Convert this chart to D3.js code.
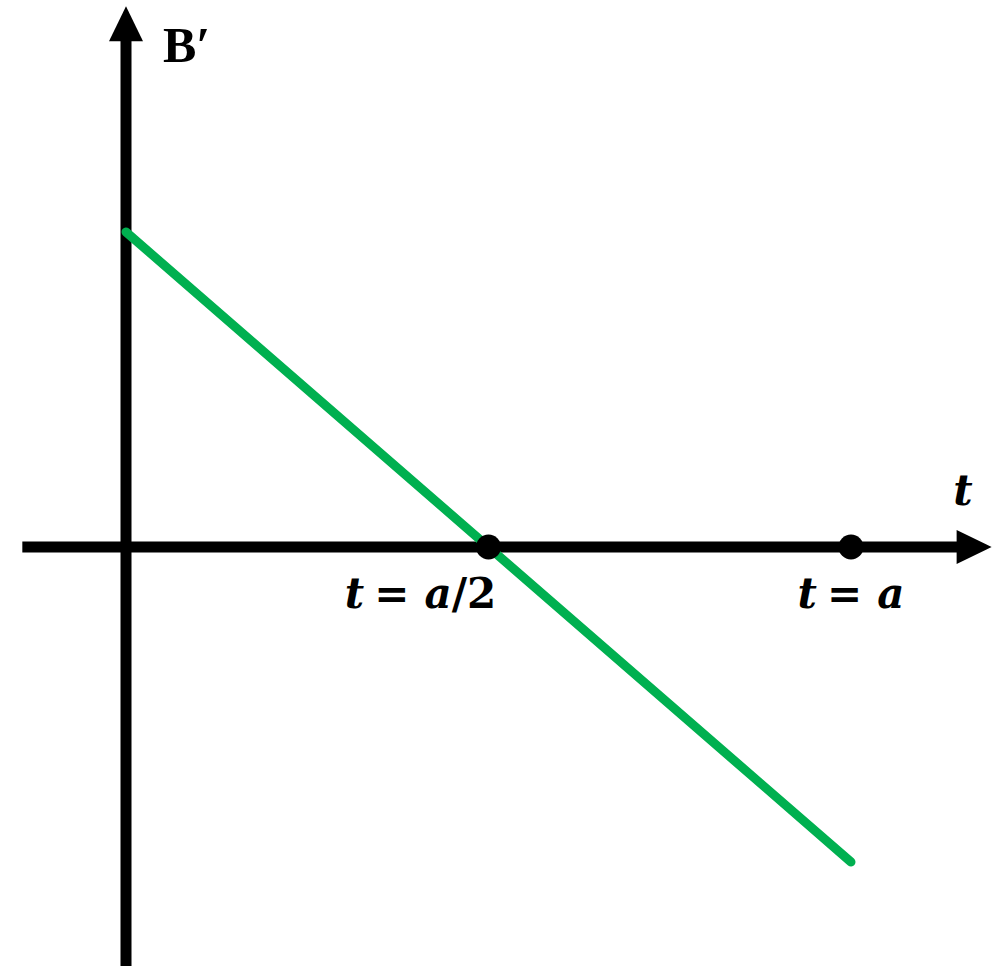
<!DOCTYPE html>
<html>
<head>
<meta charset="utf-8">
<script src="https://cdn.jsdelivr.net/npm/d3@7"></script>
<style>
  body { margin: 0; background: #fff; }
  svg { display: block; }
  .lbl { font-family: "Liberation Serif", "DejaVu Serif", serif; font-weight: bold; fill: #000; }
  .math { font-family: "DejaVu Serif", serif; font-weight: bold; fill: #000; }
</style>
</head>
<body>
<div id="chart"></div>
<script>
// B'(t) straight line, value at t=0 and t=a (a = 1)
const lineT = [0, 1];
const lineB = [1, -1];
// marked points on the t axis
const markT = [0.5, 1];
const markLabels = ["a/2", "a"];
// axis extents (in data units)
const tRange = [-0.143, 1.194];
const bRange = [-1.33, 1.717];

const W = 1000, H = 980;

const x = d3.scaleLinear().domain([0, 1]).range([126, 851]);
const y = d3.scaleLinear().domain([0, 1]).range([547, 232]);

const svg = d3.select("#chart").append("svg")
    .attr("width", W)
    .attr("height", H);

const head = 35, half = 17;

// t axis
svg.append("line")
    .attr("x1", x(tRange[0])).attr("y1", y(0))
    .attr("x2", x(tRange[1]) - head + 2).attr("y2", y(0))
    .attr("stroke", "#000").attr("stroke-width", 11);
svg.append("path")
    .attr("d", `M${x(tRange[1])},${y(0)} L${x(tRange[1]) - head},${y(0) - half} L${x(tRange[1]) - head},${y(0) + half} Z`)
    .attr("fill", "#000");

// B' axis
svg.append("line")
    .attr("x1", x(0)).attr("y1", y(bRange[0]))
    .attr("x2", x(0)).attr("y2", y(bRange[1]) + head - 2)
    .attr("stroke", "#000").attr("stroke-width", 11);
svg.append("path")
    .attr("d", `M${x(0)},${y(bRange[1])} L${x(0) - half},${y(bRange[1]) + head} L${x(0) + half},${y(bRange[1]) + head} Z`)
    .attr("fill", "#000");

// green line
const line = d3.line()
    .x(d => x(d.t))
    .y(d => y(d.b));

svg.append("path")
    .datum(lineT.map((t, i) => ({ t: t, b: lineB[i] })))
    .attr("fill", "none")
    .attr("stroke", "#00b050")
    .attr("stroke-width", 9)
    .attr("stroke-linecap", "round")
    .attr("d", line);

// markers
svg.selectAll("circle.mark")
    .data(markT)
    .enter()
    .append("circle")
    .attr("class", "mark")
    .attr("cx", d => x(d))
    .attr("cy", y(0))
    .attr("r", 12.5)
    .attr("fill", "#000");

// marker labels
const labelOffset = [-68, 0];
const lbl = svg.selectAll("text.mark")
    .data(markT)
    .enter()
    .append("text")
    .attr("class", "math mark")
    .attr("x", (d, i) => x(d) + labelOffset[i])
    .attr("y", y(0) + 61)
    .attr("text-anchor", "middle")
    .attr("font-size", 42);

lbl.each(function (d, i) {
    const t = d3.select(this);
    const parts = markLabels[i].split("/");
    t.append("tspan").attr("font-style", "italic").text("t");
    t.append("tspan").attr("dx", 10).text("=");
    t.append("tspan").attr("dx", 15).attr("font-style", "italic").text(parts[0]);
    if (parts.length > 1) t.append("tspan").text("/" + parts[1]);
});

// axis titles
svg.append("text")
    .attr("class", "lbl")
    .attr("x", 163)
    .attr("y", 62)
    .attr("font-size", 50)
    .text("B\u2032");

svg.append("text")
    .attr("class", "math")
    .attr("x", 963)
    .attr("y", 505)
    .attr("text-anchor", "middle")
    .attr("font-style", "italic")
    .attr("font-size", 42)
    .text("t");
</script>
</body>
</html>
